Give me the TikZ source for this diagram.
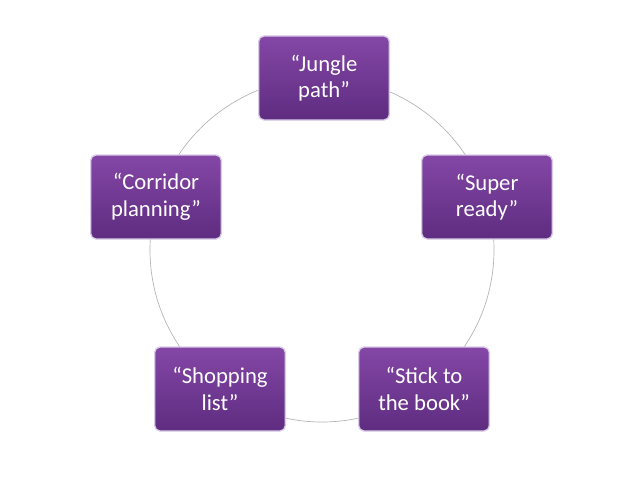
\documentclass[tikz,border=0pt]{standalone}
\usepackage{fontspec}
\setmainfont{Carlito}
\begin{document}
\begin{tikzpicture}[x=0.75pt,y=-0.75pt,
  box/.style={rounded corners=4pt, minimum width=98pt, minimum height=63pt,
    top color=purple1, bottom color=purple2, draw=lav, line width=1pt,
    text=white, align=center, font=\fontsize{17}{20}\selectfont, inner sep=2pt}]
\definecolor{purple1}{HTML}{8447A6}
\definecolor{purple2}{HTML}{5E2C80}
\definecolor{lav}{HTML}{D9CCE6}
\useasboundingbox (0,0) rectangle (638,478);
\coordinate (c) at (322,250);
\draw[gray!60, line width=0.5pt] (c) circle[radius=172*0.75pt];
\node[box] (j) at (324,78) {“Jungle\\ path”};
\node[box] (s) at (487,197) {“Super\\ ready”};
\node[box] (b) at (424,389) {“Stick to\\the book”};
\node[box] (l) at (220,389) {“Shopping\\ list”};
\node[box] (p) at (156,197) {“Corridor\\planning”};
\end{tikzpicture}
\end{document}
